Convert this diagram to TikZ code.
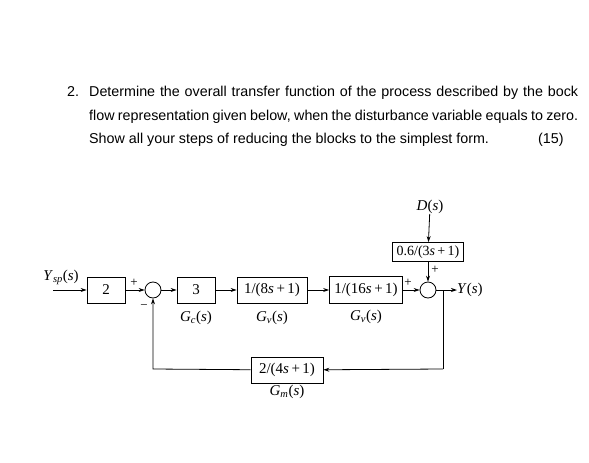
\documentclass[tikz,border=0pt]{standalone}
\usepackage{fontspec}
\setmainfont{Liberation Serif}
\newfontfamily\qfont{Liberation Sans}
\usetikzlibrary{arrows.meta}
\begin{document}
\begin{tikzpicture}[x=1pt,y=-1pt,
  blk/.style={draw,line width=0.8pt,minimum height=26pt,inner sep=0pt,font=\fontsize{15}{17}\selectfont},
  sumc/.style={draw,circle,line width=0.8pt,minimum size=16pt,inner sep=0pt},
  lbl/.style={inner sep=0pt,font=\fontsize{15}{17}\selectfont},
  sgn/.style={inner sep=0pt,font=\fontsize{13}{14}\selectfont},
  qtext/.style={inner sep=0pt,anchor=base west,font=\qfont\fontsize{14.3}{16}\selectfont},
  wire/.style={line width=0.8pt},
  arr/.style={wire,-{Stealth[length=6pt,width=4pt]}}]
\useasboundingbox (0,0) rectangle (589,463);
% question text
\node[qtext] (qn) at (67,96) {2.};
\node[qtext] (q1) at (89,96) {\makebox[489pt][s]{Determine the overall transfer function of the process described by the bock}};
\node[qtext] (q2) at (89,120) {\makebox[489pt][s]{flow representation given below, when the disturbance variable equals to zero.}};
\node[qtext] (q3) at (89,143) {Show all your steps of reducing the blocks to the simplest form.};
\node[qtext] (q4) at (538,143) {(15)};
% diagram
\coordinate (in) at (53,290);
\node[lbl] (ysp) at (61,277) {\textit{Y}\textsubscript{\textit{sp}}(\textit{s})};
\node[blk,minimum width=38pt] (b2) at (106,290) {2};
\node[sumc] (s1) at (153,290) {};
\node[blk,minimum width=38pt] (b3) at (196,290) {3};
\node[lbl] (gc) at (196,318) {\textit{G}\textsubscript{\textit{c}}(\textit{s})};
\node[blk,minimum width=70pt] (bv1) at (272,290) {1/(8\textit{s}\,+\,1)};
\node[lbl] (gv1) at (272,318) {\textit{G}\textsubscript{\textit{v}}(\textit{s})};
\node[blk,minimum width=73pt,minimum height=27pt] (bv2) at (366,290) {1/(16\textit{s}\,+\,1)};
\node[lbl] (gv2) at (366,317) {\textit{G}\textsubscript{\textit{v}}(\textit{s})};
\node[sumc] (s2) at (428,290) {};
\node[lbl] (ds) at (430,207) {\textit{D}(\textit{s})};
\node[blk,minimum width=71pt,minimum height=19pt,font=\fontsize{14}{16}\selectfont] (bd) at (428,252) {0.6/(3\textit{s}\,+\,1)};
\node[lbl,anchor=west] (ys) at (457,290) {\textit{Y}(\textit{s})};
\coordinate (br) at (443,290);
\coordinate (fr) at (443,369);
\node[blk,minimum width=72pt] (bm) at (287,370) {2/(4\textit{s}\,+\,1)};
\node[lbl] (gm) at (287,392) {\textit{G}\textsubscript{\textit{m}}(\textit{s})};
\coordinate (fl) at (153,369);
% signs
\node[sgn] (p1) at (134,283) {+};
\node[sgn] (m1) at (144,307) {\textminus};
\node[sgn] (p2) at (408,283) {+};
\node[sgn] (p3) at (435,270) {+};
% connectors
\draw[arr] (in) -- (b2);
\draw[arr] (b2) -- (s1);
\draw[arr] (s1) -- (b3);
\draw[arr] (b3) -- (bv1);
\draw[arr] (bv1) -- (bv2);
\draw[arr] (bv2) -- (s2);
\draw[arr] (ds) -- (bd);
\draw[arr] (bd) -- (s2);
\draw[arr] (s2) -- (ys.west);
\draw[wire] (br) -- (fr);
\draw[arr] (fr) -- (bm);
\draw[arr] (bm) -- (fl) -- (s1);
\end{tikzpicture}
\end{document}
